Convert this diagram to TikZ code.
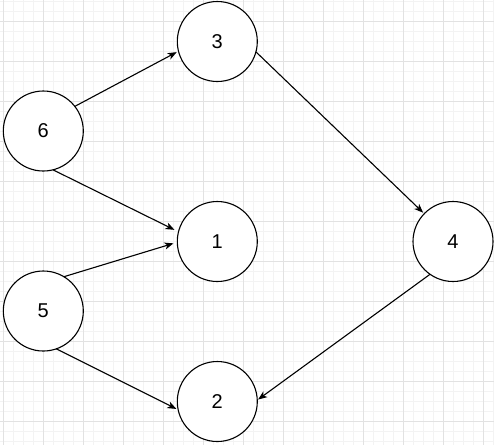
\documentclass[tikz,border=0pt]{standalone}
\usepackage{fontspec}
\setmainfont{Liberation Sans}
\usetikzlibrary{arrows.meta}
\definecolor{minorline}{RGB}{243,243,243}
\definecolor{majorline}{RGB}{226,226,226}
\tikzset{
  vertex/.style={draw, circle, line width=1.1pt, minimum size=80pt, inner sep=0pt, outer sep=0pt,
    font=\fontsize{20}{24}\selectfont},
  edge/.style={line width=1.1pt, -{Stealth[length=9pt,width=7pt,inset=2.5pt]}, shorten >=2pt},
  minorgrid/.style={minorline, line width=0.8pt},
  majorgrid/.style={majorline, line width=0.9pt}
}
\begin{document}
\begin{tikzpicture}[x=1pt, y=-1pt]
\useasboundingbox (0,0) rectangle (494,445);
\fill[white] (0,0) rectangle (494,445);

% Background grid
\foreach \i in {0,...,49} \draw[minorgrid] ({3.3+10*\i},0) -- ({3.3+10*\i},445);
\foreach \j in {0,...,44} \draw[minorgrid] (0,{1.5+10*\j}) -- (494,{1.5+10*\j});
\foreach \i in {0,...,12} \draw[majorgrid] ({3.3+40*\i},0) -- ({3.3+40*\i},445);
\foreach \j in {0,...,11} \draw[majorgrid] (0,{21.5+40*\j}) -- (494,{21.5+40*\j});

% Vertices
\node[vertex, fill=white] (n6) at (43.3,131) {6};
\node[vertex, fill=white] (n5) at (43.3,311) {5};
\node[vertex, fill=white] (n3) at (217.3,41.5) {3};
\node[vertex, fill=white] (n1) at (217.3,241.5) {1};
\node[vertex, fill=white] (n2) at (217.3,401.5) {2};
\node[vertex, fill=white] (n4) at (453,241.5) {4};

% Edges
\draw[edge] (n6.38) -- (n3.194);
\draw[edge, shorten >=4.5pt] (n6.284) -- (n1.166);
\draw[edge, shorten >=4pt] (n5.59) -- (n1.181);
\draw[edge] (n5.289) -- (n2.192);
\draw[edge, shorten >=1.5pt] (n3.345) -- (n4.136);
\draw[edge, shorten >=1pt] (n4.235) -- (n2.2);
\end{tikzpicture}
\end{document}
